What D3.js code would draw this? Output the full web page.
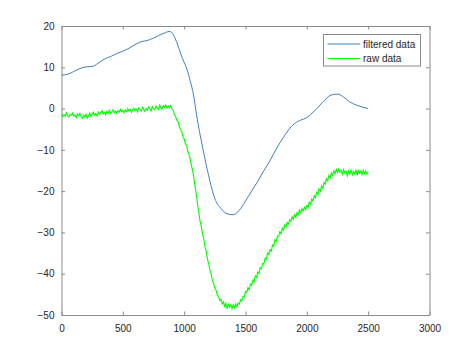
<!DOCTYPE html>
<html>
<head>
<meta charset="utf-8">
<script src="https://cdn.jsdelivr.net/npm/d3@7"></script>
<style>
  body { margin: 0; background: #fff; }
  svg { display: block; font-family: "Liberation Sans", Arial, sans-serif; }
</style>
</head>
<body>
<svg id="chart" width="474" height="355"></svg>
<script>
// ---- data ----
const xTicks = [0, 500, 1000, 1500, 2000, 2500, 3000];
const yTicks = [-50, -40, -30, -20, -10, 0, 10, 20];
const seriesNames = ["filtered data", "raw data"];

const filteredX = [0, 50, 100, 150, 200, 250, 300, 350, 400, 450, 500, 550, 600, 650, 700, 750, 800, 850, 875, 900, 925, 950, 975, 1000, 1025, 1050, 1075, 1100, 1125, 1150, 1175, 1200, 1250, 1300, 1350, 1400, 1450, 1500, 1550, 1600, 1650, 1700, 1750, 1800, 1850, 1900, 1950, 2000, 2050, 2100, 2150, 2200, 2250, 2300, 2350, 2400, 2450, 2500];
const filteredY = [8.1, 8.3, 9.0, 9.7, 10.1, 10.2, 11.0, 12.0, 12.6, 13.3, 13.9, 14.6, 15.5, 16.2, 16.5, 17.1, 17.8, 18.4, 18.7, 18.4, 17.1, 15.2, 13.0, 11.2, 9.3, 6.6, 3.5, -1.3, -5.6, -9.3, -13.0, -16.3, -21.8, -24.2, -25.5, -25.7, -24.6, -22.4, -20.0, -17.6, -15.0, -12.6, -9.8, -7.4, -5.2, -3.6, -2.8, -2.2, -0.9, 0.6, 2.2, 3.3, 3.5, 2.8, 1.6, 0.9, 0.4, 0.0];

// raw samples, one every 10 units from 0 to 2500
const rawStart = 0, rawStep = 10;
const rawY = [
  -1.2, -2.0, -1.5, -1.8, -1.0, -1.7, -2.1, -1.4, -1.6, -1.1,
  -1.9, -1.5, -2.2, -1.3, -1.7, -1.2, -2.0, -2.4, -1.6, -2.0,
  -1.4, -2.3, -1.8, -1.1, -1.9, -1.4, -0.9, -1.6, -1.2, -1.8,
  -0.8, -1.4, -1.0, -0.5, -1.3, -0.9, -1.5, -0.7, -1.1, -0.4,
  -1.2, -0.8, -0.3, -1.0, -0.6, -1.1, -0.5, -0.9, -0.2, -0.8,
  -0.4, -1.0, -0.3, -0.7, 0.0, -0.6, -0.2, -0.9, -0.4, 0.1,
  -0.5, -0.1, -0.8, 0.2, -0.3, -0.6, 0.3, -0.2, -0.7, 0.0,
  -0.4, 0.4, -0.1, -0.6, 0.5, 0.0, -0.3, 0.6, 0.1, -0.2,
  0.8, 0.2, -0.1, 0.7, 0.3, 0.9, 0.1, 0.6, 0.2, 0.7,
  -0.1, -0.4, -1.3, -1.9, -2.8, -3.1, -4.3, -5.0, -5.6, -6.8,
  -7.4, -8.5, -9.0, -10.4, -11.1, -12.5, -13.8, -15.2, -17.0, -19.1,
  -21.0, -23.4, -25.2, -27.4, -28.5, -30.4, -31.6, -33.5, -34.6, -36.5,
  -37.6, -39.2, -40.1, -41.6, -42.3, -43.6, -44.0, -45.2, -45.4, -46.5,
  -46.2, -47.3, -46.8, -47.9, -47.2, -48.4, -47.4, -48.1, -47.6, -48.5,
  -47.5, -48.3, -47.3, -48.0, -47.1, -47.4, -46.3, -46.6, -45.5, -45.6,
  -44.3, -44.6, -43.4, -43.9, -42.5, -42.8, -41.6, -42.0, -40.5, -40.9,
  -39.6, -40.0, -38.5, -38.8, -37.5, -37.6, -36.2, -36.5, -35.0, -35.4,
  -34.2, -34.6, -33.0, -33.3, -31.8, -32.2, -30.9, -31.0, -29.8, -30.3,
  -29.0, -29.5, -28.2, -28.7, -27.6, -28.0, -26.9, -27.3, -26.2, -26.8,
  -25.7, -26.3, -25.2, -25.7, -24.6, -25.2, -24.2, -24.8, -23.9, -24.5,
  -23.5, -23.9, -22.7, -23.2, -21.9, -22.4, -21.1, -21.6, -20.3, -20.8,
  -19.5, -20.0, -18.7, -19.3, -17.9, -18.3, -17.0, -17.5, -16.2, -16.8,
  -15.6, -16.2, -15.1, -15.8, -14.7, -15.5, -14.6, -15.4, -14.9, -15.9,
  -14.8, -15.6, -15.2, -16.3, -15.1, -15.9, -14.9, -16.1, -15.3, -15.8,
  -14.8, -16.2, -15.0, -15.7, -15.2, -16.0, -14.9, -15.8, -15.1, -15.9,
  -15.3
];

// ---- layout ----
const W = 474, H = 355;
const m = { left: 61.5, right: 44.5, top: 26, bottom: 40 };
const iw = W - m.left - m.right, ih = H - m.top - m.bottom;
const axisColor = "#8a8a8a", textColor = "#262626";
const blue = "#3f7fbf", green = "#00ff00";

const svg = d3.select("#chart");
const g = svg.append("g").attr("transform", `translate(${m.left},${m.top})`);

const x = d3.scaleLinear().domain([0, 3000]).range([0, iw]);
const y = d3.scaleLinear().domain([-50, 20]).range([ih, 0]);

const tickLen = 3.5;
const fmt = d3.format("d");
const xAxis = g.append("g").attr("transform", `translate(0,${ih})`)
  .call(d3.axisBottom(x).tickValues(xTicks).tickFormat(fmt).tickSizeInner(-tickLen).tickSizeOuter(0).tickPadding(10));
const yAxis = g.append("g")
  .call(d3.axisLeft(y).tickValues(yTicks).tickFormat(fmt).tickSizeInner(-tickLen).tickSizeOuter(0).tickPadding(7));
const xTop = g.append("g")
  .call(d3.axisTop(x).tickValues(xTicks).tickSizeInner(-tickLen).tickSizeOuter(0).tickFormat(""));
const yRight = g.append("g").attr("transform", `translate(${iw},0)`)
  .call(d3.axisRight(y).tickValues(yTicks).tickSizeInner(-tickLen).tickSizeOuter(0).tickFormat(""));

[xAxis, yAxis, xTop, yRight].forEach(a => {
  a.select(".domain").attr("stroke", axisColor).attr("stroke-width", 1);
  a.selectAll(".tick line").attr("stroke", axisColor);
  a.selectAll(".tick text").attr("fill", textColor).attr("font-size", 10)
    .attr("font-family", "Liberation Sans, Arial, sans-serif");
});

// lines
const filtered = filteredX.map((d, i) => [d, filteredY[i]]);
const raw = rawY.map((v, i) => [rawStart + i * rawStep, v]);

g.append("path").datum(raw)
  .attr("fill", "none").attr("stroke", green).attr("stroke-width", 1.1)
  .attr("d", d3.line().x(d => x(d[0])).y(d => y(d[1])));

g.append("path").datum(filtered)
  .attr("fill", "none").attr("stroke", blue).attr("stroke-width", 1)
  .attr("d", d3.line().curve(d3.curveMonotoneX).x(d => x(d[0])).y(d => y(d[1])));

// legend
const lg = svg.append("g").attr("transform", "translate(323.5,34.5)");
lg.append("rect").attr("width", 97).attr("height", 31.5)
  .attr("fill", "#fff").attr("stroke", axisColor).attr("stroke-width", 1);
const colors = [blue, green];
seriesNames.forEach((name, i) => {
  const yy = 9.5 + i * 14.5;
  lg.append("line").attr("x1", 4).attr("x2", 36.5).attr("y1", yy).attr("y2", yy)
    .attr("stroke", colors[i]).attr("stroke-width", 1);
  lg.append("text").attr("x", 39.5).attr("y", yy).attr("dy", "0.35em")
    .attr("font-size", 10).attr("fill", textColor).text(name);
});
</script>
</body>
</html>
